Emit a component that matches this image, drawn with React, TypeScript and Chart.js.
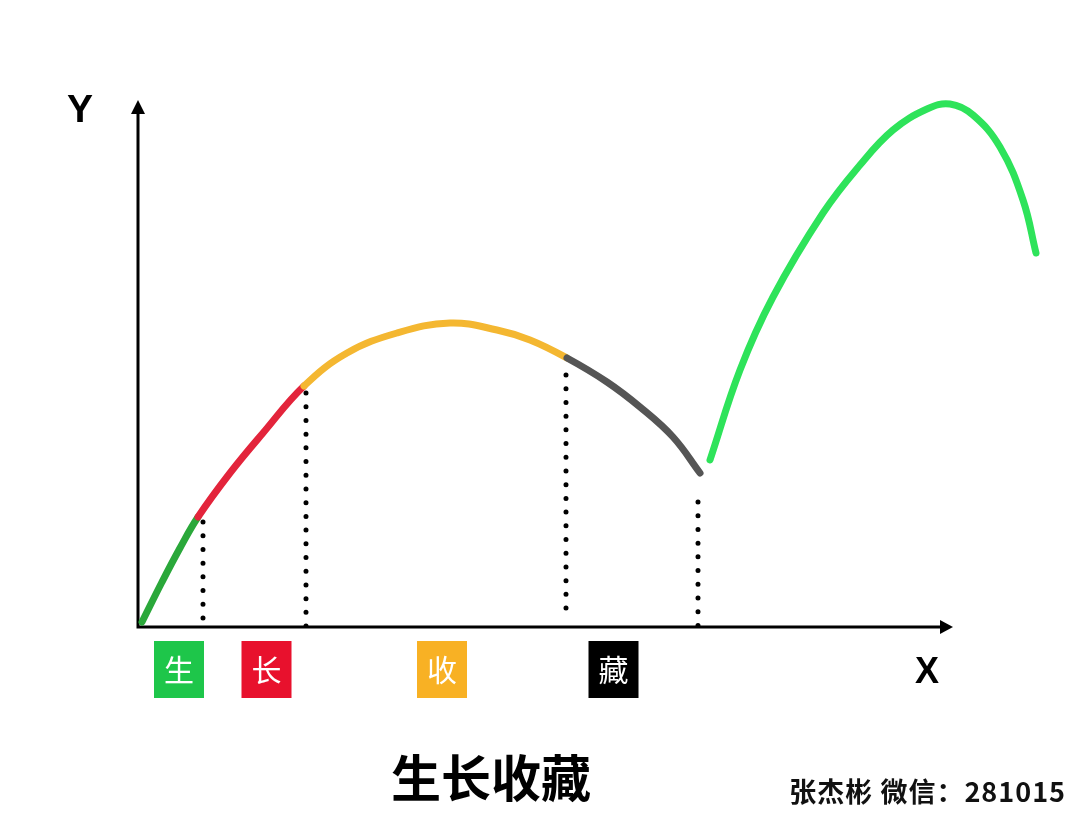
import { useEffect, useRef } from "react";
import { Chart, registerables } from "chart.js";

Chart.register(...registerables);

// first arc (生 → 长 → 收 → 藏): x = distance along X axis, y = height above X axis
const arcX = [4, 24, 42, 60, 92, 125, 166, 209, 259, 312, 359, 392, 429, 469, 502, 535, 562];
const arcY = [5, 45, 79, 110, 154, 194, 241, 274, 294, 304, 297, 287, 269, 245, 220, 190, 154];
// stage boundaries along the arc (where the colour changes)
const stageEnds = [60, 166, 429];
const arcColors = ["#2aa83a", "#e3243b", "#f4b731", "#555555"];

// next cycle
const nextX = [572, 602, 635, 685, 722, 755, 789, 812, 835, 862, 885, 898];
const nextY = [167, 257, 330, 414, 462, 497, 518, 523, 512, 480, 427, 374];

// dotted guides: x, top, bottom
const guideX = [65, 168, 428, 560];
const guideTop = [105, 234, 252, 125];
const guideBottom = [7, -1, 17, 0];

const stageLabels = ["生", "长", "收", "藏"];
const stageCenters = [41, 128.5, 304, 475.5];
const stageColors = ["#1ec64a", "#e8112d", "#f8b124", "#000000"];

const X_MAX = 910;
const Y_MAX = 527;
const X_ARROW = 815;

const stageOf = (x: number) => {
  const i = stageEnds.findIndex((e) => x < e);
  return i === -1 ? stageEnds.length : i;
};

const axesPlugin = {
  id: "arrowAxes",
  beforeDatasetsDraw(chart: any) {
    const { ctx, scales } = chart;
    const x0 = scales.x.getPixelForValue(0);
    const y0 = scales.y.getPixelForValue(0);
    const yTop = scales.y.getPixelForValue(Y_MAX);
    const xEnd = scales.x.getPixelForValue(X_ARROW);
    ctx.save();
    ctx.strokeStyle = "#000";
    ctx.fillStyle = "#000";
    ctx.lineWidth = 3;
    ctx.beginPath();
    ctx.moveTo(x0, y0 + 1.5);
    ctx.lineTo(x0, yTop + 10);
    ctx.moveTo(x0 - 1.5, y0);
    ctx.lineTo(xEnd - 10, y0);
    ctx.stroke();
    ctx.beginPath();
    ctx.moveTo(x0, yTop);
    ctx.lineTo(x0 - 7, yTop + 14);
    ctx.lineTo(x0 + 7, yTop + 14);
    ctx.closePath();
    ctx.fill();
    ctx.beginPath();
    ctx.moveTo(xEnd, y0);
    ctx.lineTo(xEnd - 13, y0 - 7);
    ctx.lineTo(xEnd - 13, y0 + 7);
    ctx.closePath();
    ctx.fill();

    // axis names
    ctx.font = "bold 39px 'Liberation Sans', Arial, sans-serif";
    ctx.textAlign = "left";
    ctx.textBaseline = "alphabetic";
    ctx.fillText("Y", x0 - 71, yTop + 22);
    ctx.font = "bold 36px 'Liberation Sans', Arial, sans-serif";
    ctx.fillText("X", xEnd - 38, y0 + 56);

    // stage boxes
    ctx.font = "30px 'Noto Sans CJK SC', sans-serif";
    ctx.textAlign = "center";
    ctx.textBaseline = "middle";
    stageLabels.forEach((lab, i) => {
      const cx = scales.x.getPixelForValue(stageCenters[i]);
      const top = y0 + 14;
      ctx.fillStyle = stageColors[i];
      ctx.fillRect(cx - 25, top, 50, 57);
      ctx.fillStyle = "#fff";
      ctx.fillText(lab, cx, top + 29);
    });
    ctx.restore();
  },
};

export default function App() {
  const canvasRef = useRef<HTMLCanvasElement>(null);

  useEffect(() => {
    if (!canvasRef.current) return;
    const chart = new Chart(canvasRef.current, {
      type: "line",
      data: {
        datasets: [
          {
            data: arcX.map((x, i) => ({ x, y: arcY[i] })),
            borderColor: arcColors[0],
            borderWidth: 7,
            borderCapStyle: "round",
            pointRadius: 0,
            fill: false,
            tension: 0.4,
            order: 0,
            segment: {
              borderColor: (c: any) => arcColors[stageOf(c.p0.parsed.x)],
            },
          },
          {
            data: nextX.map((x, i) => ({ x, y: nextY[i] })),
            borderColor: "#2ee35a",
            borderWidth: 7,
            borderCapStyle: "round",
            pointRadius: 0,
            fill: false,
            tension: 0.4,
            order: 0,
          },
          ...guideX.map((x, i) => ({
            data: [{ x, y: guideTop[i] }, { x, y: guideBottom[i] }],
            borderColor: "#000",
            borderWidth: 5,
            borderDash: [0.01, 13.7],
            borderCapStyle: "round",
            pointRadius: 0,
            fill: false,
            order: 1,
          })),
        ] as any,
      },
      options: {
        responsive: false,
        animation: false,
        layout: { padding: { left: 138, right: 32, top: 100, bottom: 208 } },
        plugins: { legend: { display: false }, tooltip: { enabled: false } },
        scales: {
          x: { type: "linear", min: 0, max: X_MAX, display: false },
          y: { type: "linear", min: 0, max: Y_MAX, display: false },
        },
      },
      plugins: [axesPlugin],
    });
    return () => { chart.destroy(); };
  }, []);

  return (
    <div style={{ position: "absolute", left: 0, top: 0, width: 1080, height: 835, background: "#fff", overflow: "hidden" }}>
      <canvas ref={canvasRef} width={1080} height={835} style={{ width: 1080, height: 835, display: "block" }} />
      <div style={{
        position: "absolute", left: 0, width: 982, top: 750, textAlign: "center",
        fontFamily: "'Noto Sans CJK SC', sans-serif", fontWeight: 700, fontSize: 50, lineHeight: 1, color: "#000",
      }}>生长收藏</div>
      <div style={{
        position: "absolute", right: 14, top: 777, whiteSpace: "nowrap", letterSpacing: 1,
        fontFamily: "'Noto Sans CJK SC', sans-serif", fontWeight: 700, fontSize: 27, lineHeight: 1, color: "#111",
      }}>张杰彬 微信：281015</div>
    </div>
  );
}
